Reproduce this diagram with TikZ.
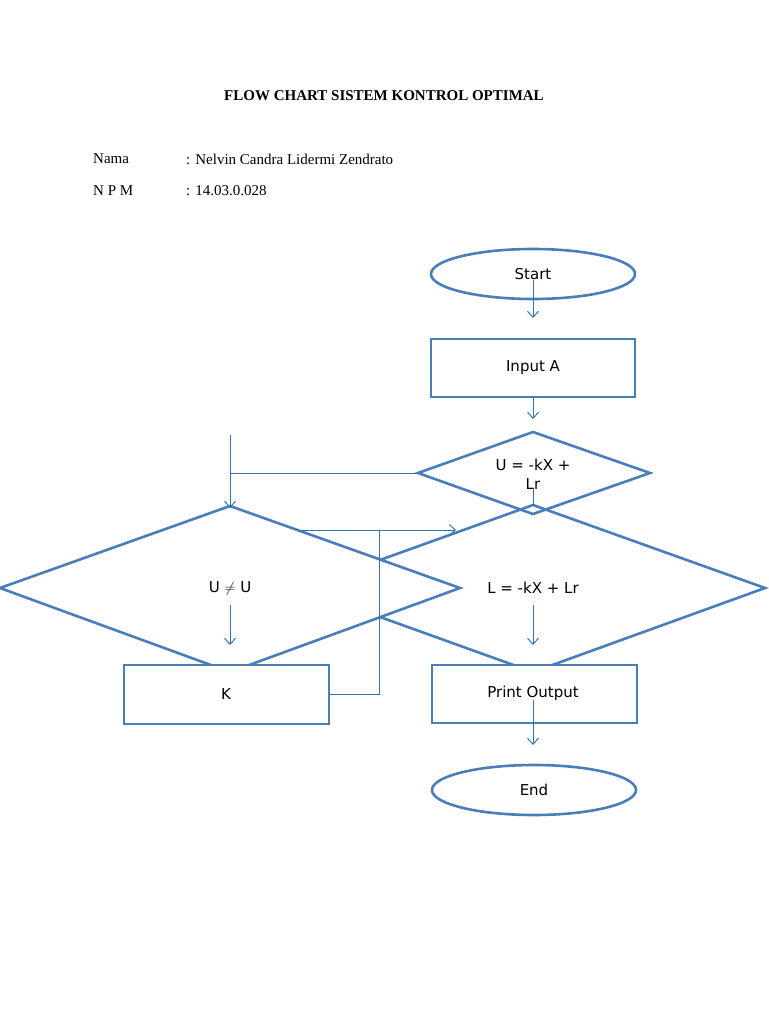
\documentclass[tikz,border=0pt]{standalone}
\usepackage{fontspec}
\setmainfont{Liberation Serif}
\newfontfamily\shp{DejaVu Sans}
\usetikzlibrary{arrows.meta}
\definecolor{shc}{HTML}{4A7EBB}
\definecolor{cnc}{HTML}{2E75B6}
\begin{document}
\begin{tikzpicture}[x=1pt,y=-1pt,
  shape line/.style={draw=shc,line width=2.6pt},
  conn/.style={draw=cnc,line width=1pt},
  arr/.style={conn,-{Straight Barb[length=6pt,width=11pt,line width=1pt]}},
  lbl/.style={font=\shp\fontsize{15}{18}\selectfont,align=center,text=black,inner sep=0pt},
  hdr/.style={font=\fontsize{15}{17}\selectfont,anchor=west,inner sep=0pt}]
\useasboundingbox[fill=white] (0,0) rectangle (768,1024);
\node[font=\bfseries\fontsize{15}{17}\selectfont,inner sep=0pt] (title) at (384,96) {FLOW CHART SISTEM KONTROL OPTIMAL};
\node[hdr] (nama) at (93,159) {Nama};
\node[hdr] (namav) at (186,159) {: Nelvin Candra Lidermi Zendrato};
\node[hdr] (npm) at (93,191) {N P M};
\node[hdr] (npmv) at (186,191) {: 14.03.0.028};
% shapes
\draw[shape line] (533,274) ellipse[x radius=102,y radius=25];
\node[lbl] (start) at (533,274) {Start};
\draw[shape line] (431,339) rectangle (635,397);
\node[lbl] (inp) at (533,368) {Input A};
\draw[shape line] (418,473) -- (533,432) -- (650,473) -- (533,514) -- cycle;
\node[lbl] (d1) at (533,474) {U = -kX +\\[1pt]Lr};
\draw[shape line] (0,588) -- (230,506) -- (460,588) -- (230,672) -- cycle;
\node[lbl] (d3) at (230,588) {U $\neq$ U};
\draw[shape line] (380,560) -- (533,505) -- (765,588) -- (533,672) -- (380,617);
\node[lbl] (d2) at (533,588) {L = -kX + Lr};
\draw[shape line,fill=white] (124,665) rectangle (329,724);
\node[lbl] (k) at (226,694) {K};
\draw[shape line,fill=white] (432,665) rectangle (637,723);
\node[lbl] (pr) at (533,693) {Print Output};
\draw[shape line] (534,790) ellipse[x radius=102,y radius=25];
\node[lbl] (end) at (534,790) {End};
% connectors
\coordinate (a1) at (533,318); \draw[arr] (start.south) -- (a1);
\coordinate (a2) at (533,419); \draw[arr] (533,397) -- (a2);
\draw[conn] (d1.south) -- (533,505);
\coordinate (top) at (230,435); \coordinate (d3t) at (230,508);
\draw[arr] (top) -- (d3t);
\draw[conn] (230,473) -- (418,473);
\coordinate (b1) at (230,645); \draw[arr] (230,605) -- (b1);
\coordinate (b2) at (533,645); \draw[arr] (533,605) -- (b2);
\coordinate (b3) at (533,745); \draw[arr] (pr.south) -- (b3);
\draw[conn] (329,694) -- (379,694) -- (379,530);
\coordinate (c1) at (300,530); \coordinate (c2) at (456,530);
\draw[arr] (c1) -- (c2);
\end{tikzpicture}
\end{document}
